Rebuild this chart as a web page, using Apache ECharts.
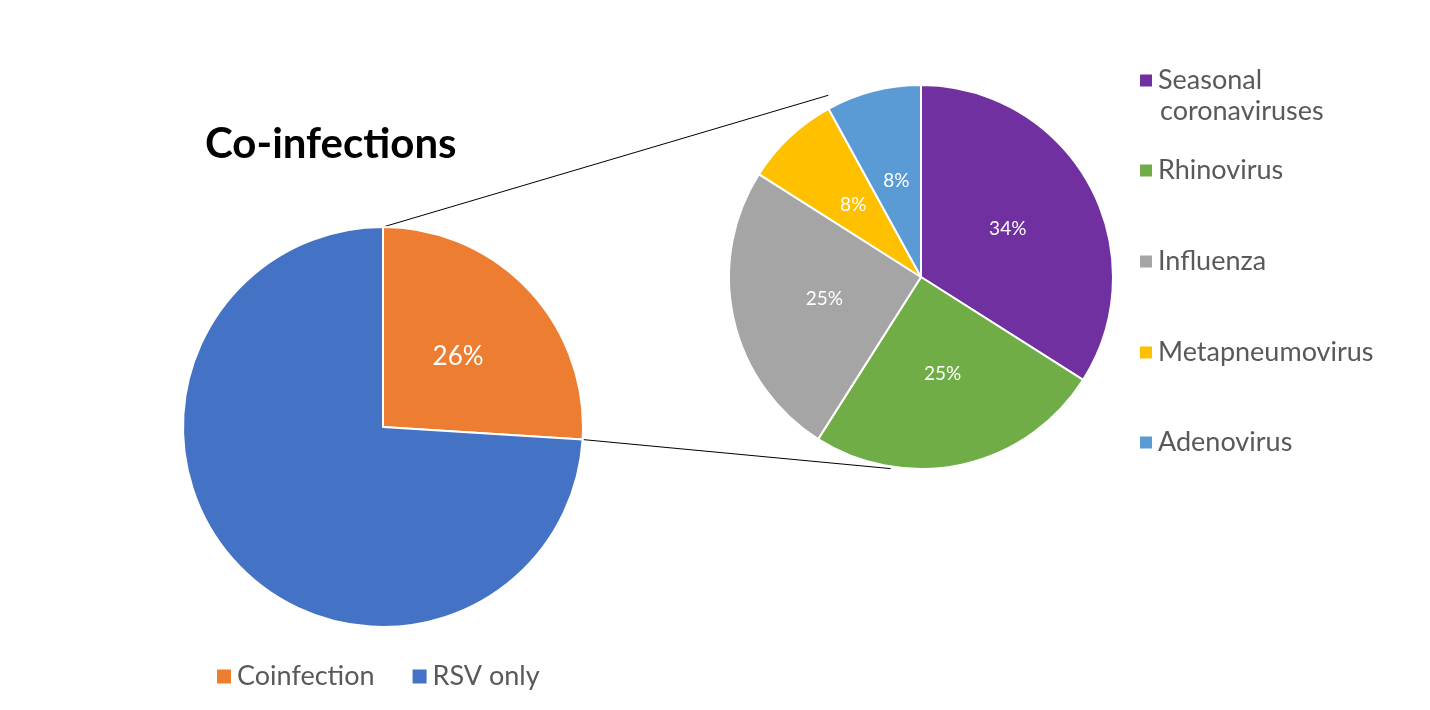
<!DOCTYPE html>
<html><head><meta charset="utf-8">
<script src="https://cdn.jsdelivr.net/npm/echarts@6/dist/echarts.min.js"></script>
<style>html,body{margin:0;padding:0;background:#fff}#c{width:1430px;height:710px}</style>
</head><body><div id="c"></div>
<script>
const mainCats = ['Coinfection', 'RSV only'];
const mainVals = [26, 74];
const subCats = ['Seasonal coronaviruses', 'Rhinovirus', 'Influenza', 'Metapneumovirus', 'Adenovirus'];
const subVals = [34, 25, 25, 8, 8];
const mainColors = ['#ED7D31', '#4472C4'];
const subColors = ['#7030A0', '#70AD47', '#A5A5A5', '#FFC000', '#5B9BD5'];
const F = 'Lato, "Open Sans", sans-serif';

const L = {cx: 383, cy: 427, r: 200};
const R = {cx: 921, cy: 277, r: 192};
const chart = echarts.init(document.getElementById('c'));
function pt(c, angDeg) { const a = angDeg * Math.PI / 180; return [c.cx + c.r * Math.sin(a), c.cy - c.r * Math.cos(a)]; }
const coinEnd = mainVals[0] / 100 * 360;
const p1 = pt(L, 0), p2 = pt(L, coinEnd);
const q1 = pt({cx: R.cx, cy: R.cy, r: R.r + 12}, -27), q2 = pt({cx: R.cx, cy: R.cy, r: R.r + 2}, 189);
const legTops = [62, 152, 243, 334, 424];
chart.setOption({
  animation: false,
  title: {text: 'Co-infections', left: 200, top: 118, textStyle: {fontFamily: F, fontSize: 42, fontWeight: 'bold', color: '#000'}},
  legend: [
    {data: mainCats, left: 210, top: 658, itemWidth: 16, itemHeight: 16, icon: 'rect', itemGap: 36,
     textStyle: {fontFamily: F, fontSize: 27, color: '#595959'}},
  ].concat(subCats.map((n, i) => ({
     data: [n], left: 1133, top: legTops[i], itemWidth: 14, itemHeight: 14, icon: 'rect',
     formatter: i === 0 ? 'Seasonal' : '{name}',
     textStyle: {fontFamily: F, fontSize: 27, color: '#595959'}}))),
  graphic: [
    {type: 'text', left: 1160, top: 98, style: {text: 'coronaviruses', font: '27px ' + F, fill: '#595959'}},
    {type: 'line', shape: {x1: p1[0], y1: p1[1], x2: q1[0], y2: q1[1]}, style: {stroke: '#000', lineWidth: 1}},
    {type: 'line', shape: {x1: p2[0], y1: p2[1], x2: q2[0], y2: q2[1]}, style: {stroke: '#000', lineWidth: 1}}
  ],
  series: [
    {type: 'pie', center: [L.cx, L.cy], radius: L.r, startAngle: 90, clockwise: true,
     itemStyle: {borderColor: '#fff', borderWidth: 2},
     label: {position: 'inside', formatter: '{c}%', color: '#fff', fontFamily: F, fontSize: 26},
     labelLine: {show: false}, emphasis: {disabled: true},
     data: mainCats.map((n, i) => ({name: n, value: mainVals[i], itemStyle: {color: mainColors[i]}, label: {show: i === 0}}))},
    {type: 'pie', center: [R.cx, R.cy], radius: R.r, startAngle: 90, clockwise: true,
     itemStyle: {borderColor: '#fff', borderWidth: 2},
     label: {position: 'inside', formatter: '{c}%', color: '#fff', fontFamily: F, fontSize: 19},
     labelLine: {show: false}, emphasis: {disabled: true},
     data: subCats.map((n, i) => ({name: n, value: subVals[i], itemStyle: {color: subColors[i]}}))}
  ]
});
</script></body></html>
